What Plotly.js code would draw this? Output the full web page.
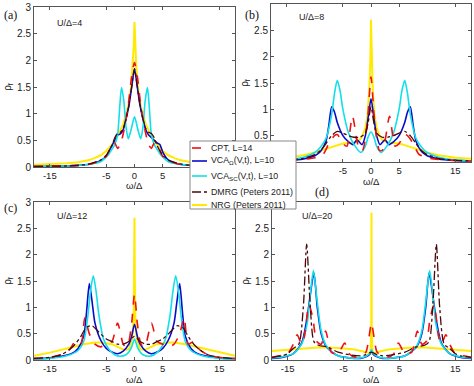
<!DOCTYPE html>
<html><head><meta charset="utf-8">
<script src="https://cdn.plot.ly/plotly-3.0.1.min.js"></script>
<style>html,body{margin:0;padding:0;background:#fff}#chart{width:474px;height:386px}</style>
</head><body><div id="chart"></div>
<script>
// ---- tick labels ----
const xTickVals = [-15,-5,0,5,15];
const xTickText = ['-15','-5','0','5','15'];
const yTickVals = [0,0.5,1,1.5,2,2.5,3];
const yTickText = ['0','0.5','1','1.5','2','2.5','3'];
const seriesNames = ['CPT, L=14','VCA<sub>Ω</sub>(V,t), L=10','VCA<sub>SC</sub>(V,t), L=10','DMRG (Peters 2011)','NRG (Peters 2011)'];
const panelLabels = ['(a)','(b)','(c)','(d)'];
const uLabels = ['U/Δ=4','U/Δ=8','U/Δ=12','U/Δ=20'];
const xTitle = 'ω/Δ';
const yTitle = 'ρ<sub>f</sub>';

// ---- panel (a) U/Δ=4 ----
const a_cpt_x = [-17.8,-15,-12,-10,-8,-6,-5,-4,-3.5,-3,-2.5,-2,-1.5,-1,-0.5,0,0.5,1,1.5,2,2.5,3,3.5,4,5,6,8,10,12,15,17.8];
const a_cpt_y = [0.01,0.015,0.02,0.03,0.05,0.12,0.2,0.42,0.45,0.35,0.42,0.62,0.9,1.25,1.7,1.96,1.7,1.25,0.9,0.62,0.42,0.35,0.45,0.42,0.2,0.12,0.05,0.03,0.02,0.015,0.01];
const a_vo_x = [-17.8,-15,-12,-10,-8,-7,-6,-5,-4.5,-4,-3.5,-3,-2.5,-2,-1.5,-1,-0.5,0,0.5,1,1.5,2,2.5,3,3.5,4,4.5,5,6,7,8,10,12,15,17.8];
const a_vo_y = [0.01,0.015,0.02,0.03,0.05,0.08,0.12,0.2,0.3,0.4,0.5,0.6,0.62,0.7,0.9,1.14,1.5,1.83,1.5,1.14,0.9,0.7,0.6,0.55,0.5,0.45,0.42,0.28,0.13,0.08,0.05,0.03,0.02,0.015,0.01];
const a_vs_x = [-17.8,-15,-12,-10,-8,-7,-6,-5,-4.5,-4,-3.5,-3,-2.6,-2.3,-1.9,-1.5,-1.1,-0.6,0,0.6,1.1,1.5,1.9,2.3,2.6,3,3.5,4,4.5,5,6,7,8,10,12,15,17.8];
const a_vs_y = [0.01,0.015,0.02,0.03,0.05,0.07,0.1,0.19,0.25,0.33,0.42,0.6,1.15,1.49,1.25,0.75,0.53,0.7,0.94,0.7,0.53,0.75,1.25,1.49,1.15,0.6,0.42,0.33,0.25,0.19,0.1,0.07,0.05,0.03,0.02,0.015,0.01];
const a_dm_x = [-17.8,-15,-12,-10,-8,-6,-5,-4,-3.5,-3,-2.5,-2,-1.5,-1,-0.5,0,0.5,1,1.5,2,2.5,3,3.5,4,5,6,8,10,12,15,17.8];
const a_dm_y = [0.01,0.015,0.02,0.03,0.06,0.13,0.22,0.4,0.55,0.63,0.65,0.72,0.9,1.15,1.5,1.85,1.5,1.15,0.9,0.72,0.65,0.63,0.55,0.4,0.22,0.13,0.06,0.03,0.02,0.015,0.01];
const a_nrg_x = [-17.8,-15,-12,-10,-8,-7,-6,-5,-4,-3,-2,-1.5,-1,-0.6,-0.3,-0.12,0,0.12,0.3,0.6,1,1.5,2,3,4,5,6,7,8,10,12,15,17.8];
const a_nrg_y = [0.04,0.05,0.07,0.09,0.13,0.17,0.22,0.3,0.42,0.58,0.8,0.98,1.2,1.5,1.9,2.3,2.72,2.3,1.9,1.5,1.2,0.98,0.8,0.58,0.42,0.3,0.22,0.17,0.13,0.09,0.07,0.05,0.04];

// ---- panel (b) U/Δ=8 ----
const b_cpt_x = [-17.8,-15,-12,-10,-8.5,-7.5,-6.5,-6,-5,-4.3,-3.3,-2.5,-2,-1.5,-1,-0.5,0,0.5,1,1.5,2,2.5,3.3,4.3,5,6,6.5,7.5,8.5,10,12,15,17.8];
const b_cpt_y = [0.02,0.03,0.05,0.08,0.15,0.35,0.5,0.52,0.35,0.3,0.87,0.4,0.22,0.22,0.45,0.95,1.62,0.95,0.45,0.22,0.22,0.4,0.87,0.3,0.35,0.52,0.5,0.35,0.15,0.08,0.05,0.03,0.02];
const b_vo_x = [-17.8,-15,-12,-10,-9,-8,-7.5,-7,-6.5,-6,-5,-4,-3.2,-2.5,-1.6,-1,-0.5,0,0.5,1,1.6,2.5,3.2,4,5,6,6.5,7,7.5,8,9,10,12,15,17.8];
const b_vo_y = [0.02,0.03,0.06,0.12,0.2,0.4,0.7,1.05,0.95,0.75,0.5,0.38,0.33,0.42,0.33,0.5,0.85,1.2,0.85,0.5,0.33,0.42,0.33,0.38,0.5,0.75,0.95,1.05,0.7,0.4,0.2,0.12,0.06,0.03,0.02];
const b_vs_x = [-17.8,-15,-12,-10,-9,-8,-7,-6.5,-6,-5.5,-5,-4,-3,-1.8,-1,-0.5,0,0.5,1,1.8,3,4,5,5.5,6,6.5,7,8,9,10,12,15,17.8];
const b_vs_y = [0.02,0.04,0.09,0.18,0.28,0.45,0.9,1.3,1.55,1.35,1.0,0.55,0.33,0.18,0.3,0.48,0.57,0.48,0.3,0.18,0.33,0.55,1.0,1.35,1.55,1.3,0.9,0.45,0.28,0.18,0.09,0.04,0.02];
const b_dm_x = [-17.8,-15,-12,-10,-9,-8,-7,-6,-5,-4,-3,-2,-1,-0.5,0,0.5,1,2,3,4,5,6,7,8,9,10,12,15,17.8];
const b_dm_y = [0.02,0.03,0.07,0.14,0.22,0.35,0.5,0.58,0.55,0.5,0.47,0.47,0.55,0.75,1.05,0.75,0.55,0.47,0.47,0.5,0.55,0.58,0.5,0.35,0.22,0.14,0.07,0.03,0.02];
const b_nrg_x = [-17.8,-15,-12,-10,-8,-6,-5,-4,-3,-2,-1.5,-1,-0.6,-0.3,-0.1,0,0.1,0.3,0.6,1,1.5,2,3,4,5,6,8,10,12,15,17.8];
const b_nrg_y = [0.06,0.08,0.13,0.18,0.25,0.32,0.35,0.36,0.37,0.42,0.5,0.65,0.9,1.4,2.0,2.7,2.0,1.4,0.9,0.65,0.5,0.42,0.37,0.36,0.35,0.32,0.25,0.18,0.13,0.08,0.06];

// ---- panel (c) U/Δ=12 ----
const c_cpt_x = [-17.8,-15,-13,-11.5,-10.5,-9.5,-8.8,-8,-7,-6,-5,-4,-3,-2,-1.5,-1,-0.5,0,0.5,1,1.5,2,3,4,5,6,7,8,8.8,9.5,10.5,11.5,13,15,17.8];
const c_cpt_y = [0.03,0.05,0.1,0.2,0.35,0.3,0.8,0.5,0.3,0.25,0.3,0.35,0.7,0.3,0.25,0.35,0.7,1.25,0.7,0.35,0.25,0.3,0.7,0.35,0.3,0.25,0.3,0.5,0.8,0.3,0.35,0.2,0.1,0.05,0.03];
const c_vo_x = [-17.8,-15,-13,-11,-10,-9,-8.5,-8,-7.5,-7,-6,-5,-4,-3,-2,-1,-0.5,0,0.5,1,2,3,4,5,6,7,7.5,8,8.5,9,10,11,13,15,17.8];
const c_vo_y = [0.02,0.04,0.07,0.13,0.22,0.45,0.9,1.45,1.1,0.7,0.38,0.22,0.15,0.12,0.17,0.3,0.45,0.68,0.45,0.3,0.17,0.12,0.15,0.22,0.38,0.7,1.1,1.45,0.9,0.45,0.22,0.13,0.07,0.04,0.02];
const c_vs_x = [-17.8,-15,-12,-10,-9,-8.3,-7.8,-7.3,-6.8,-6.3,-5.5,-4.5,-3.5,-2.5,-1.5,-1,-0.5,0,0.5,1,1.5,2.5,3.5,4.5,5.5,6.3,6.8,7.3,7.8,8.3,9,10,12,15,17.8];
const c_vs_y = [0.02,0.03,0.08,0.18,0.35,0.8,1.3,1.6,1.3,0.85,0.4,0.2,0.1,0.07,0.1,0.15,0.25,0.4,0.25,0.15,0.1,0.07,0.1,0.2,0.4,0.85,1.3,1.6,1.3,0.8,0.35,0.18,0.08,0.03,0.02];
const c_dm_x = [-17.8,-15,-13,-11.5,-10.5,-9.5,-8.5,-7.5,-6.5,-5,-4,-3,-2,-1,0,1,2,3,4,5,6.5,7.5,8.5,9.5,10.5,11.5,13,15,17.8];
const c_dm_y = [0.03,0.05,0.1,0.2,0.3,0.45,0.62,0.65,0.55,0.4,0.35,0.3,0.3,0.35,0.45,0.35,0.3,0.3,0.35,0.4,0.55,0.65,0.62,0.45,0.3,0.2,0.1,0.05,0.03];
const c_nrg_x = [-17.8,-15,-12,-9,-7,-6,-4,-2,-1,-0.4,-0.15,-0.05,0,0.05,0.15,0.4,1,2,4,6,7,9,12,15,17.8];
const c_nrg_y = [0.08,0.14,0.22,0.3,0.33,0.33,0.3,0.2,0.2,0.4,0.8,1.6,2.7,1.6,0.8,0.4,0.2,0.2,0.3,0.33,0.33,0.3,0.22,0.14,0.08];

// ---- panel (d) U/Δ=20 ----
const d_cpt_x = [-17.8,-16.5,-15,-14,-13.3,-12.5,-12,-11.2,-10.5,-9.8,-9,-8.2,-7.2,-6,-4.8,-4,-3,-2,-1,-0.5,0,0.5,1,2,3,4,4.8,6,7.2,8.2,9,9.8,10.5,11.2,12,12.5,13.3,14,15,16.5,17.8];
const d_cpt_y = [0.05,0.08,0.12,0.3,0.48,0.3,0.45,1.05,0.8,0.35,0.3,0.55,0.15,0.12,0.32,0.12,0.06,0.08,0.15,0.4,0.7,0.4,0.15,0.08,0.06,0.12,0.32,0.12,0.15,0.55,0.3,0.35,0.8,1.05,0.45,0.3,0.48,0.3,0.12,0.08,0.05];
const d_vo_x = [-17.8,-16,-14,-12.5,-11.6,-11,-10.3,-9.7,-9,-8,-6,-4,-2,-1,-0.3,0,0.3,1,2,4,6,8,9,9.7,10.3,11,11.6,12.5,14,16,17.8];
const d_vo_y = [0.03,0.05,0.12,0.32,0.75,1.2,1.65,1.0,0.5,0.24,0.08,0.04,0.03,0.06,0.11,0.18,0.11,0.06,0.03,0.04,0.08,0.24,0.5,1.0,1.65,1.2,0.75,0.32,0.12,0.05,0.03];
const d_vs_x = [-17.8,-16,-14,-12.5,-11.5,-11,-10.4,-9.7,-9,-8,-6,-4,-2,-1,-0.3,0,0.3,1,2,4,6,8,9,9.7,10.4,11,11.5,12.5,14,16,17.8];
const d_vs_y = [0.04,0.06,0.12,0.3,0.7,1.2,1.7,1.1,0.55,0.25,0.08,0.04,0.04,0.07,0.13,0.2,0.13,0.07,0.04,0.04,0.08,0.25,0.55,1.1,1.7,1.2,0.7,0.3,0.12,0.06,0.04];
const d_dm_x = [-17.8,-16,-15,-14,-13,-12.2,-11.6,-11,-10.3,-9.5,-8,-6,-4,-2,-1,0,1,2,4,6,8,9.5,10.3,11,11.6,12.2,13,14,15,16,17.8];
const d_dm_y = [0.05,0.08,0.12,0.22,0.3,1.0,2.2,1.1,0.35,0.28,0.25,0.15,0.1,0.08,0.1,0.15,0.1,0.08,0.1,0.15,0.25,0.28,0.35,1.1,2.2,1.0,0.3,0.22,0.12,0.08,0.05];
const d_nrg_x = [-17.8,-15,-12,-9,-6,-3,-1,-0.2,-0.05,0,0.05,0.2,1,3,6,9,12,15,17.8];
const d_nrg_y = [0.17,0.2,0.22,0.24,0.23,0.2,0.15,0.13,0.5,2.8,0.5,0.13,0.15,0.2,0.23,0.24,0.22,0.2,0.17];

const panels = [
  {xa:'x',  ya:'y',  cpt:[a_cpt_x,a_cpt_y], vo:[a_vo_x,a_vo_y], vs:[a_vs_x,a_vs_y], dm:[a_dm_x,a_dm_y], nrg:[a_nrg_x,a_nrg_y]},
  {xa:'x2', ya:'y2', cpt:[b_cpt_x,b_cpt_y], vo:[b_vo_x,b_vo_y], vs:[b_vs_x,b_vs_y], dm:[b_dm_x,b_dm_y], nrg:[b_nrg_x,b_nrg_y]},
  {xa:'x3', ya:'y3', cpt:[c_cpt_x,c_cpt_y], vo:[c_vo_x,c_vo_y], vs:[c_vs_x,c_vs_y], dm:[c_dm_x,c_dm_y], nrg:[c_nrg_x,c_nrg_y]},
  {xa:'x4', ya:'y4', cpt:[d_cpt_x,d_cpt_y], vo:[d_vo_x,d_vo_y], vs:[d_vs_x,d_vs_y], dm:[d_dm_x,d_dm_y], nrg:[d_nrg_x,d_nrg_y]}
];

const styles = {
  cpt: {color:'#ee1111', width:1.6, dash:'dash', shape:'spline', smoothing:0.7, name:seriesNames[0]},
  vo:  {color:'#0a0acc', width:1.6, dash:'solid', shape:'spline', smoothing:0.7, name:seriesNames[1]},
  vs:  {color:'#11e0ea', width:1.6, dash:'solid', shape:'spline', smoothing:0.7, name:seriesNames[2]},
  dm:  {color:'#4a0808', width:1.3, dash:'dashdot', shape:'spline', smoothing:0.7, name:seriesNames[3]},
  nrg: {color:'#ffea00', width:2, dash:'solid', shape:'linear', smoothing:0, name:seriesNames[4]}
};
const drawOrder = ['nrg','vo','vs','cpt','dm'];
const legendOrder = ['cpt','vo','vs','dm','nrg'];

const traces = [];
panels.forEach((p, i) => {
  drawOrder.forEach(k => {
    const s = styles[k];
    const line = {color:s.color, width:s.width, dash:s.dash, shape:s.shape};
    if (s.shape === 'spline') line.smoothing = s.smoothing;
    traces.push({
      type:'scatter', mode:'lines', x:p[k][0], y:p[k][1], xaxis:p.xa, yaxis:p.ya,
      name:s.name, showlegend:false, line:line, hoverinfo:'skip'
    });
  });
});

const W = 474, H = 386;
const boxes = [
  {x0:34, x1:235, y0:7,   y1:167},
  {x0:271,x1:471, y0:4,   y1:162},
  {x0:34, x1:235, y0:202, y1:360},
  {x0:272,x1:471, y0:202, y1:360}
];
// tick labels that sit under the legend box in the reference are left blank
const hiddenX = [[4], [0], [], []];
const hiddenY = [[], [0], [], [6]];
const font = 'Liberation Sans, Arial, sans-serif';
const layout = {
  width:W, height:H, margin:{l:0,r:0,t:0,b:0},
  paper_bgcolor:'#fff', plot_bgcolor:'#fff',
  font:{family:font, size:10, color:'#222'},
  showlegend:false,
  annotations:[], shapes:[]
};
boxes.forEach((b, i) => {
  const sfx = i === 0 ? '' : String(i+1);
  const xt = xTickText.map((t, j) => hiddenX[i].includes(j) ? '' : t);
  const yt = yTickText.map((t, j) => hiddenY[i].includes(j) ? '' : t);
  layout['xaxis'+sfx] = {
    domain:[b.x0/W, b.x1/W], anchor:'y'+sfx, range:[-17.8,17.8], fixedrange:true,
    tickvals:xTickVals, ticktext:xt, ticks:'inside', ticklen:3, tickcolor:'#555',
    showline:true, linecolor:'#555', linewidth:1, mirror:'ticks', showgrid:false, zeroline:false,
    tickfont:{size:9.5, family:font, color:'#222'}, automargin:false
  };
  layout['yaxis'+sfx] = {
    domain:[1-b.y1/H, 1-b.y0/H], anchor:'x'+sfx, range:[0,3], fixedrange:true,
    tickvals:yTickVals, ticktext:yt, ticks:'inside', ticklen:3, tickcolor:'#555',
    showline:true, linecolor:'#555', linewidth:1, mirror:'ticks', showgrid:false, zeroline:false,
    tickfont:{size:10, family:font, color:'#222'}, automargin:false,
    title:{text:yTitle, font:{size:10, family:font, color:'#222'}, standoff:3}
  };
  // x-axis title placed just under the tick labels
  layout.annotations.push({xref:'paper', yref:'paper', x:(b.x0+b.x1)/2/W, y:1-(b.y1+19)/H,
    xanchor:'center', yanchor:'middle', showarrow:false, text:xTitle,
    font:{family:font, size:9.5, color:'#222'}});
});
const labelPos = [[2,15],[243,15],[2,208],[313,192]];
const uPos = [[55,23],[297,17],[55,216],[300,216]];
panelLabels.forEach((t, i) => {
  layout.annotations.push({xref:'paper', yref:'paper', x:labelPos[i][0]/W, y:1-labelPos[i][1]/H,
    xanchor:'left', yanchor:'middle', showarrow:false, text:t,
    font:{family:'Liberation Serif, Times New Roman, serif', size:12, color:'#111'}});
  layout.annotations.push({xref:'paper', yref:'paper', x:uPos[i][0]/W, y:1-uPos[i][1]/H,
    xanchor:'left', yanchor:'middle', showarrow:false, text:uLabels[i],
    font:{family:font, size:9, color:'#222'}});
});

// ---- legend box (drawn in paper coordinates) ----
const leg = {x0:190, x1:296, y0:141, y1:209, lineX0:192, lineX1:207, textX:209};
const legRows = [148, 161, 176, 192, 205];
layout.shapes.push({type:'rect', xref:'paper', yref:'paper', layer:'above',
  x0:leg.x0/W, x1:leg.x1/W, y0:1-leg.y1/H, y1:1-leg.y0/H,
  fillcolor:'#fff', line:{color:'#888', width:1}});
legendOrder.forEach((k, r) => {
  const s = styles[k];
  const yy = 1 - legRows[r]/H;
  layout.shapes.push({type:'line', xref:'paper', yref:'paper', layer:'above',
    x0:leg.lineX0/W, x1:leg.lineX1/W, y0:yy, y1:yy,
    line:{color:s.color, width:s.width, dash:s.dash}});
  layout.annotations.push({xref:'paper', yref:'paper', x:leg.textX/W, y:yy,
    xanchor:'left', yanchor:'middle', showarrow:false, text:s.name,
    font:{family:font, size:8.8, color:'#222'}});
});

Plotly.newPlot('chart', traces, layout, {staticPlot:true, displayModeBar:false});
</script></body></html>
